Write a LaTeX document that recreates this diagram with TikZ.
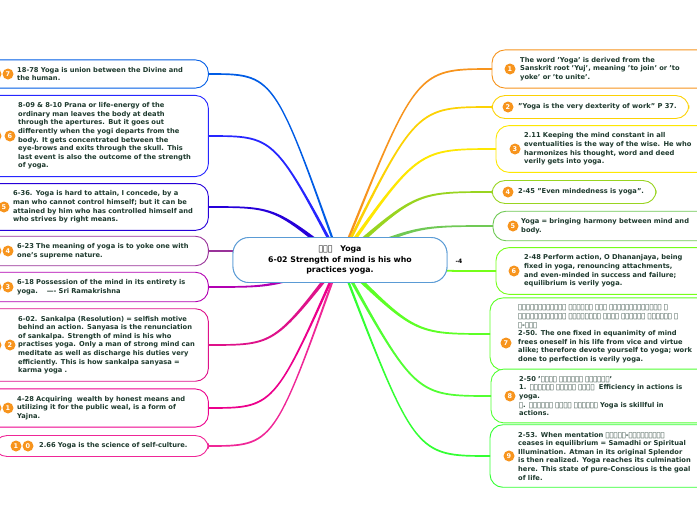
\documentclass[tikz,border=0pt]{standalone}
\usepackage{fontspec}
\setmainfont{DejaVu Sans}
\usetikzlibrary{calc}

\definecolor{txtc}{HTML}{1E3A2E}
\definecolor{badgec}{HTML}{F7941D}
\definecolor{hubc}{HTML}{5A9BD5}

\tikzset{
  item/.style={inner sep=0pt, anchor=west, align=left, text=txtc,
    font=\bfseries\fontsize{6.7}{8.6}\selectfont,
    execute at begin node={\hyphenpenalty=10000\exhyphenpenalty=10000}},
  box/.style={draw=#1, line width=0.9pt, rounded corners=13pt, fill=white},
  badge/.style={circle, fill=badgec, text=white, inner sep=0pt, minimum size=11pt,
    font=\bfseries\fontsize{6.5}{7}\selectfont},
  hub/.style={draw=hubc, line width=0.9pt, rounded corners=16pt, fill=white,
    minimum width=214pt, minimum height=45pt, align=center,
    font=\bfseries\fontsize{7.8}{10.5}\selectfont}
}

% tapered branch from the hub to a box side
\newcommand\branch[3]{%
  \path ($(hub.center)!0.5!(#3)$) coordinate (m);
  \fill[#1] ($(hub.center)+(0,3.6)$) .. controls ($(m|-#3)+(0,0.9)$) .. ($(#3)+(0,0.8)$)
    -- ($(#3)+(0,-0.8)$) .. controls ($(m|-#3)+(0,-0.9)$) .. ($(hub.center)+(0,-3.6)$) -- cycle;}
% left item: name, x, y, colour, text
\newcommand\litem[5]{%
  \node[item, text width=196pt-#2pt] (#1) at (#2,#3) {#5};
  \draw[box=#4] ($(#1.north east)+(12,-7)$) rectangle ($(#1.south west)+(-45,7)$);
  \node[item, text width=196pt-#2pt] (#1) at (#1.west) {#5};
  \coordinate (#1e) at ($(#1.east)+(12,0)$);}
% right item: name, x, y, colour, width, text
\newcommand\ritem[6]{%
  \node[item, text width=#5pt] (#1) at (#2,#3) {#6};
  \draw[box=#4] ($(#1.north west)+(-28,-7)$) rectangle ($(#1.south east)+(60,7)$);
  \node[item, text width=#5pt] (#1) at (#1.west) {#6};
  \coordinate (#1w) at ($(#1.west)+(-28,0)$);}

\begin{document}
\begin{tikzpicture}[x=1pt, y=-1pt]
  \useasboundingbox (0,0) rectangle (697,520);
  \clip (0,0) rectangle (697,520);

  % hub
  \node[hub] (hub) at (340,260) {योग\quad Yoga\\6-02 Strength of mind is his who\\practices yoga.};

  % right side
  \ritem{r1}{520}{69}{badgec}{166}{The word 'Yoga' is derived from the Sanskrit root 'Yuj', meaning 'to join' or 'to yoke' or 'to unite'.}
  \node[item] (r2) at (518,107) {"Yoga is the very dexterity of work" P 37.};
  \draw[box=yellow!70!orange] ($(r2.north west)+(-26,-8)$) rectangle ($(r2.south east)+(12,8)$);
  \node[item] (r2) at (r2.west) {"Yoga is the very dexterity of work" P 37.};
  \coordinate (r2w) at ($(r2.west)+(-26,0)$);
  \ritem{r3}{524}{149}{yellow!90!orange}{172}{2.11 Keeping the mind constant in all eventualities is the way of the wise. He who harmonizes his thought, word and deed verily gets into yoga.}
  \node[item] (r4) at (518,192) {2-45 "Even mindedness is yoga".};
  \draw[box=yellow!60!green] ($(r4.north west)+(-26,-8)$) rectangle ($(r4.south east)+(12,8)$);
  \node[item] (r4) at (r4.west) {2-45 "Even mindedness is yoga".};
  \coordinate (r4w) at ($(r4.west)+(-26,0)$);
  \ritem{r5}{521}{226}{yellow!30!green!80!white}{168}{Yoga = bringing harmony between mind and body.}
  \ritem{r6}{524}{271}{green!60!yellow!90!white}{172}{2-48 Perform action, O Dhananjaya, being fixed in yoga, renouncing attachments, and even-minded in success and failure; equilibrium is verily yoga.}
  \ritem{r7}{518}{334}{green!75!yellow!85!white}{176}{बुद्धियुक्तो जहातीह उभे सुकृतदुष्कृते ।\\तस्माद्योगाय युज्यस्व योगः कर्मसु कौशलम् ॥ २-५०॥\\2-50. The one fixed in equanimity of mind frees oneself in his life from vice and virtue alike; therefore devote yourself to yoga; work done to perfection is verily yoga.}
  \ritem{r8}{519}{396}{green!85!yellow!80!white}{174}{2-50 'योगः कर्मसु कौशलम्'\\1. कर्मसु कौशलं योगः\ \ Efficiency in actions is yoga.\\२. कर्मसु योगः कौशलम् Yoga is skillful in actions.}
  \ritem{r9}{518}{456}{green!80!white}{174}{2-53. When mentation विचार-प्रक्रिया ceases in equilibrium = Samadhi or Spiritual Illumination. Atman in its original Splendor is then realized. Yoga reaches its culmination here. This state of pure-Conscious is the goal of life.}

  % left side
  \litem{l7}{17}{74}{blue!60!cyan!90!black}{18-78 Yoga is union between the Divine and the human.}
  \litem{l6}{18}{136}{blue!85!white}{8-09 \& 8-10 Prana or life-energy of the ordinary man leaves the body at death through the apertures. But it goes out differently when the yogi departs from the body. It gets concentrated between the eye-brows and exits through the skull. This last event is also the outcome of the strength of yoga.}
  \litem{l5}{13}{207}{blue!70!violet}{6-36. Yoga is hard to attain, I concede, by a man who cannot control himself; but it can be attained by him who has controlled himself and who strives by right means.}
  \litem{l4}{17}{251}{violet!80!white}{6-23 The meaning of yoga is to yoke one with one's supreme nature.}
  \litem{l3}{17}{287}{violet!60!magenta}{6-18 Possession of the mind in its entirety is yoga.\ \ \ \ ---- Sri Ramakrishna}
  \litem{l2}{18}{345}{magenta!85!violet}{6-02. Sankalpa (Resolution) = selfish motive behind an action. Sanyasa is the renunciation of sankalpa. Strength of mind is his who practises yoga. Only a man of strong mind can meditate as well as discharge his duties very efficiently. This is how sankalpa sanyasa = karma yoga .}
  \litem{l1}{17}{408}{magenta}{4-28 Acquiring\ \ wealth by honest means and utilizing it for the public weal, is a form of Yajna.}
  \litem{l10}{39}{446}{magenta!80!pink}{2.66 Yoga is the science of self-culture.}

  % branches
  \branch{badgec}{hub}{r1w}
  \branch{yellow!70!orange}{hub}{r2w}
  \branch{yellow!90!orange}{hub}{r3w}
  \branch{yellow!60!green}{hub}{r4w}
  \branch{yellow!30!green!80!white}{hub}{r5w}
  \branch{green!60!yellow!90!white}{hub}{r6w}
  \branch{green!75!yellow!85!white}{hub}{r7w}
  \branch{green!85!yellow!80!white}{hub}{r8w}
  \branch{green!80!white}{hub}{r9w}
  \branch{blue!60!cyan!90!black}{hub}{l7e}
  \branch{blue!85!white}{hub}{l6e}
  \branch{blue!70!violet}{hub}{l5e}
  \branch{violet!80!white}{hub}{l4e}
  \branch{violet!60!magenta}{hub}{l3e}
  \branch{magenta!85!violet}{hub}{l2e}
  \branch{magenta}{hub}{l1e}
  \branch{magenta!80!pink}{hub}{l10e}
  \node[hub] (hub) at (340,260) {योग\quad Yoga\\6-02 Strength of mind is his who\\practices yoga.};
  \node[font=\bfseries\fontsize{6}{6}\selectfont] (fold) at (459,261) {-4};

  % badges
  \foreach \n/\x/\y in {1/510/69, 2/508/107, 3/515/149, 4/508/192, 5/513/226,
      6/514/271, 7/506/343, 8/510/396, 9/509/456}
    \node[badge] (rb\n) at (\x,\y) {\n};
  \foreach \n/\y in {7/74, 6/136, 4/251, 3/287, 2/345, 1/408}
    \node[badge] (lp\n) at (-4,\y) {};
  \foreach \n/\x/\y in {7/8/74, 6/10/136, 5/4/207, 4/8/251, 3/8/287, 2/10/345, 1/8/408}
    \node[badge] (lb\n) at (\x,\y) {\n};
  \node[badge] (lb10a) at (16,446) {1};
  \node[badge] (lb10b) at (28,446) {0};
\end{tikzpicture}
\end{document}
